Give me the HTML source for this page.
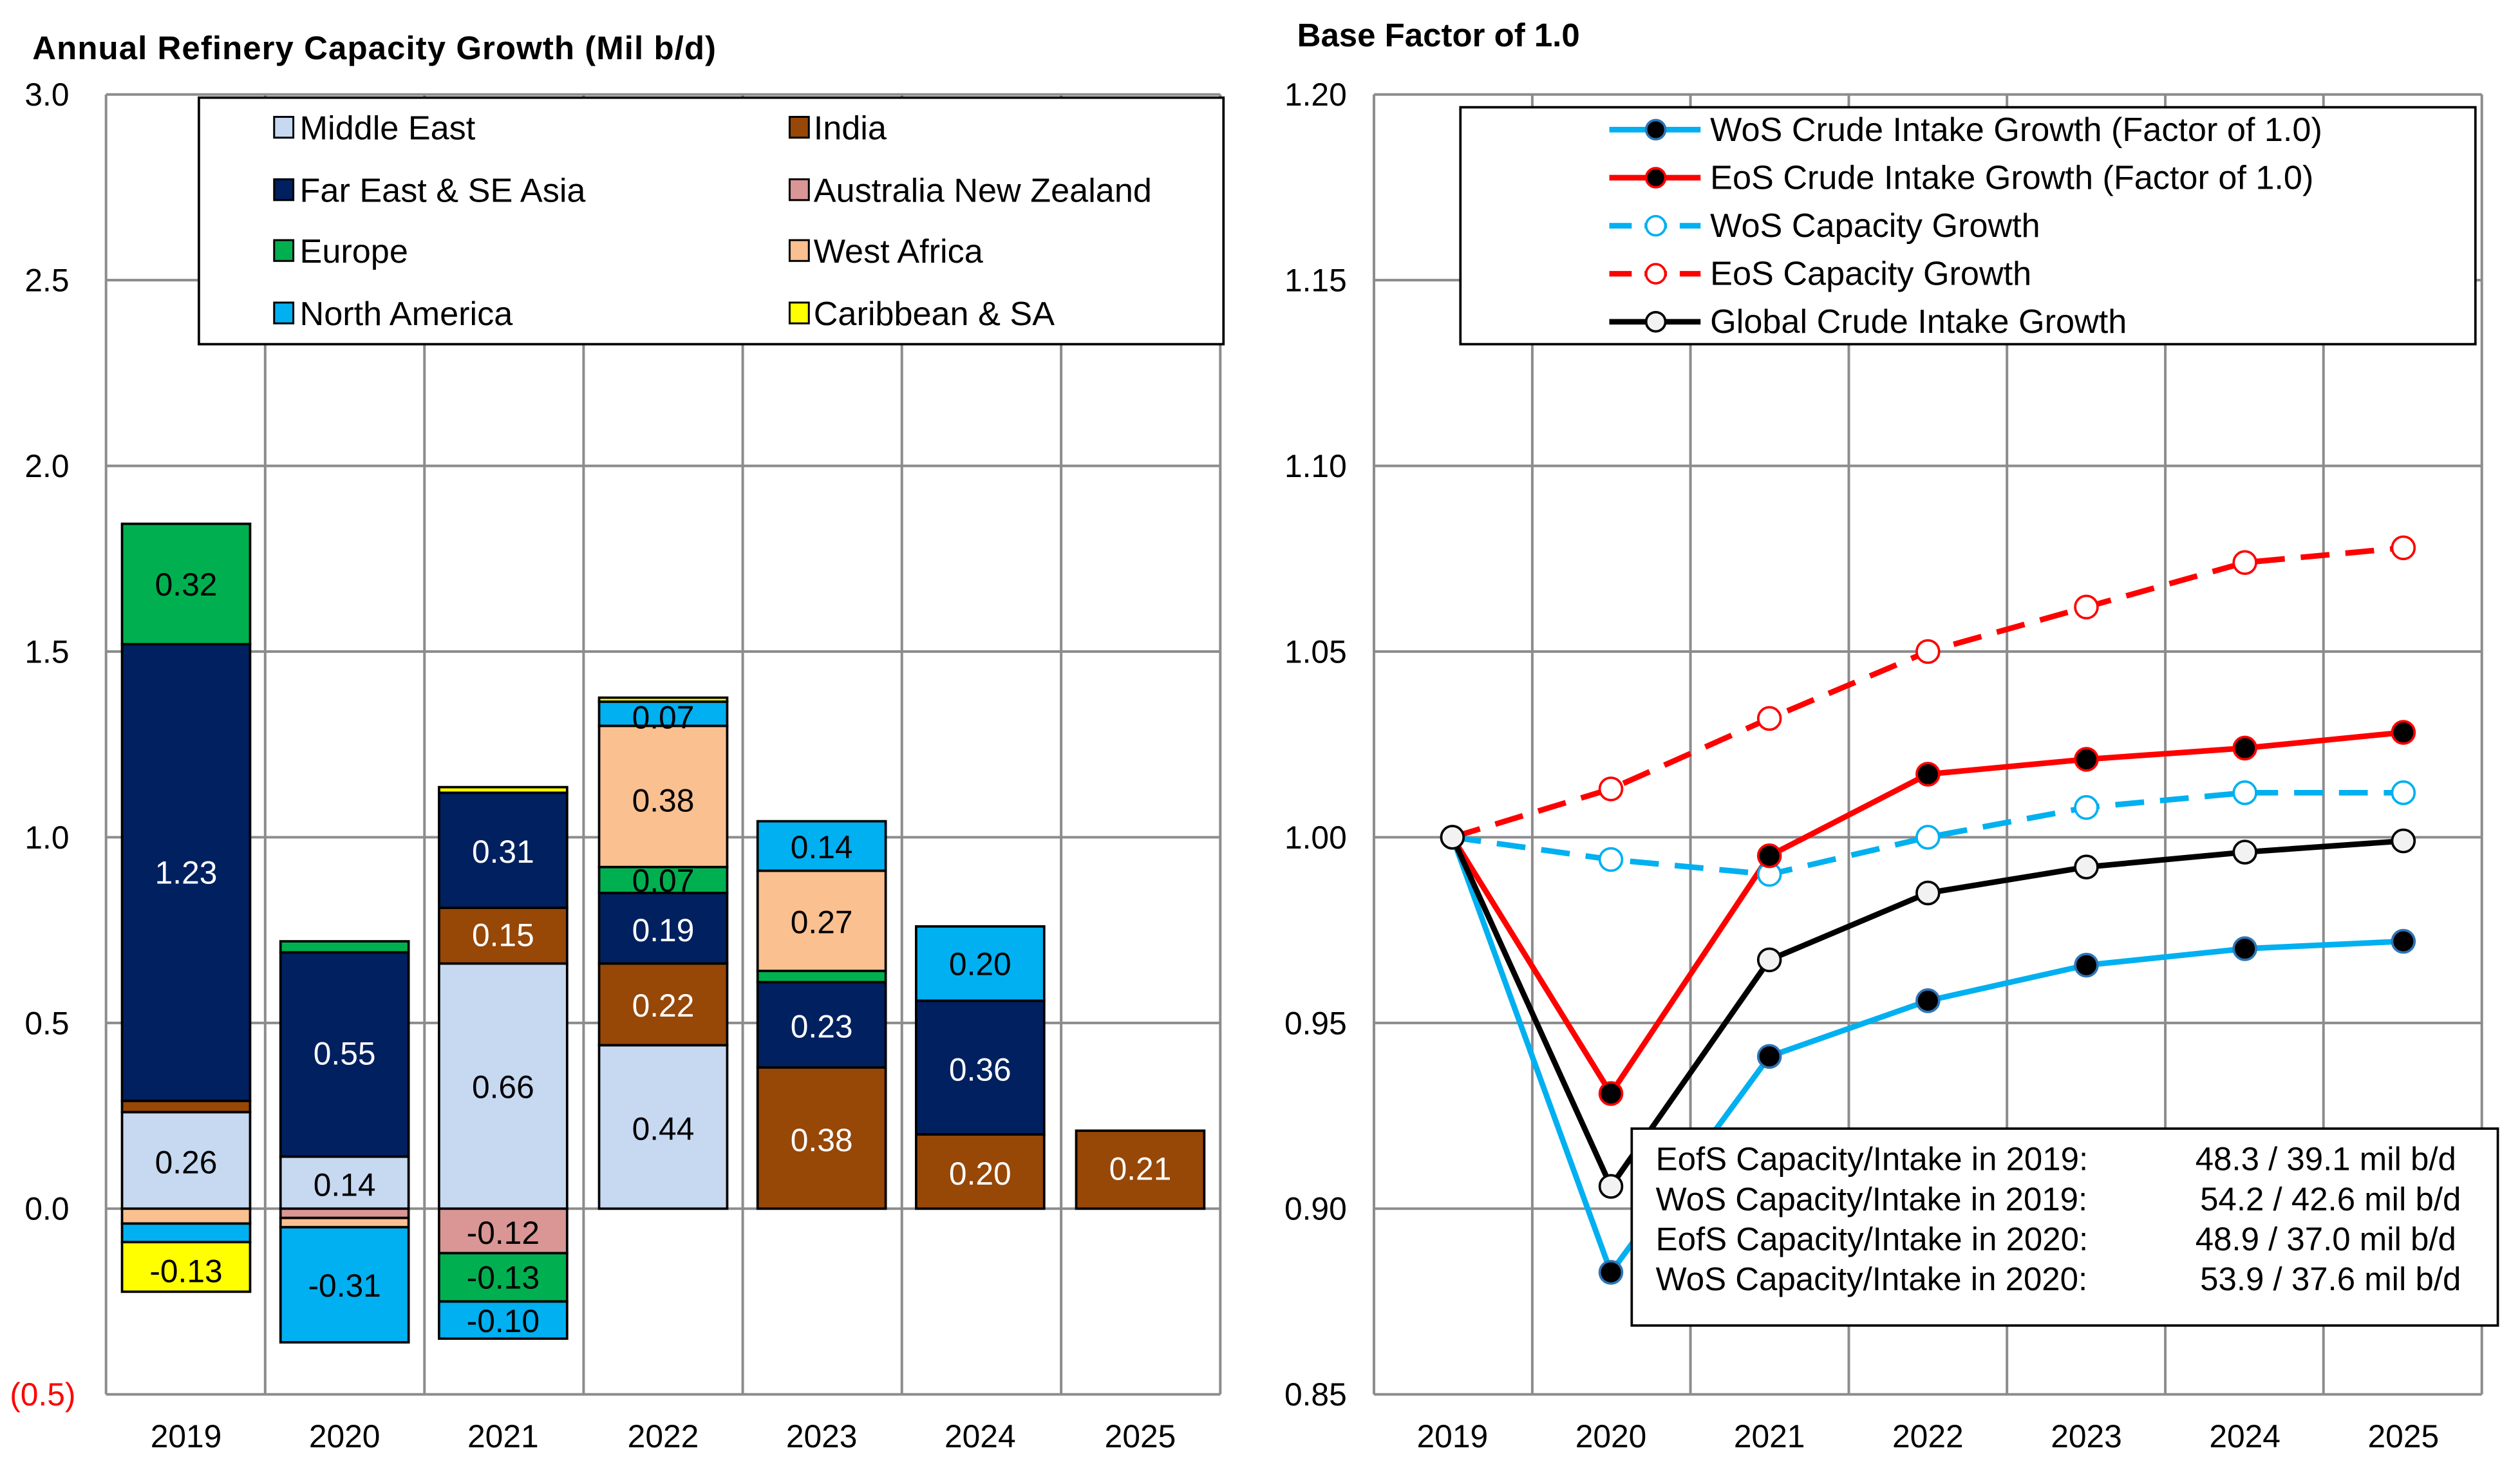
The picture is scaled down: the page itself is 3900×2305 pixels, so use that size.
<!DOCTYPE html>
<html><head><meta charset="utf-8"><style>html,body{margin:0;padding:0;background:#fff}svg{display:block}</style></head><body>
<svg xmlns="http://www.w3.org/2000/svg" width="3900" height="2305" viewBox="0 0 1568 927" font-family="Liberation Sans, Arial, sans-serif">
<rect width="1568" height="927" fill="#fff"/>
<!-- LEFT CHART -->
<text x="20" y="37" font-size="20.5" font-weight="bold" textLength="427">Annual Refinery Capacity Growth (Mil b/d)</text>
<g stroke="#8c8c8c" stroke-width="1.6">
<line x1="66" y1="59" x2="762" y2="59"/><line x1="66" y1="175" x2="762" y2="175"/><line x1="66" y1="291" x2="762" y2="291"/><line x1="66" y1="407" x2="762" y2="407"/><line x1="66" y1="523" x2="762" y2="523"/><line x1="66" y1="639" x2="762" y2="639"/><line x1="66" y1="755" x2="762" y2="755"/><line x1="66" y1="871" x2="762" y2="871"/>
<line x1="66" y1="59" x2="66" y2="871"/><line x1="165.4" y1="59" x2="165.4" y2="871"/><line x1="264.9" y1="59" x2="264.9" y2="871"/><line x1="364.3" y1="59" x2="364.3" y2="871"/><line x1="463.7" y1="59" x2="463.7" y2="871"/><line x1="563.1" y1="59" x2="563.1" y2="871"/><line x1="662.6" y1="59" x2="662.6" y2="871"/><line x1="762" y1="59" x2="762" y2="871"/>
</g>
<g font-size="20" text-anchor="end">
<text x="43" y="66">3.0</text><text x="43" y="182">2.5</text><text x="43" y="298">2.0</text><text x="43" y="414">1.5</text><text x="43" y="530">1.0</text><text x="43" y="646">0.5</text><text x="43" y="762">0.0</text><text x="47" y="878" fill="#ff0000">(0.5)</text>
</g>
<g font-size="20" text-anchor="middle">
<text x="116" y="904">2019</text><text x="215" y="904">2020</text><text x="314" y="904">2021</text><text x="414" y="904">2022</text><text x="513" y="904">2023</text><text x="612" y="904">2024</text><text x="712" y="904">2025</text>
</g>
<g stroke="#000" stroke-width="1.5">
<rect x="76" y="694.7" width="80" height="60.3" fill="#c6d9f1"/>
<rect x="76" y="687.7" width="80" height="7" fill="#974706"/>
<rect x="76" y="402.4" width="80" height="285.3" fill="#002060"/>
<rect x="76" y="327.2" width="80" height="75.2" fill="#00b050"/>
<rect x="76" y="755" width="80" height="9.3" fill="#fac090"/>
<rect x="76" y="764.3" width="80" height="11.6" fill="#00b0f0"/>
<rect x="76" y="775.9" width="80" height="31" fill="#ffff00"/>
<rect x="175" y="722.5" width="80" height="32.5" fill="#c6d9f1"/>
<rect x="175" y="594.9" width="80" height="127.6" fill="#002060"/>
<rect x="175" y="588" width="80" height="6.9" fill="#00b050"/>
<rect x="175" y="755" width="80" height="5.8" fill="#d99694"/>
<rect x="175" y="760.8" width="80" height="5.8" fill="#fac090"/>
<rect x="175" y="766.6" width="80" height="71.9" fill="#00b0f0"/>
<rect x="274" y="601.9" width="80" height="153.1" fill="#c6d9f1"/>
<rect x="274" y="567.1" width="80" height="34.8" fill="#974706"/>
<rect x="274" y="495.2" width="80" height="71.9" fill="#002060"/>
<rect x="274" y="491.7" width="80" height="3.5" fill="#ffff00"/>
<rect x="274" y="755" width="80" height="27.8" fill="#d99694"/>
<rect x="274" y="782.8" width="80" height="30.2" fill="#00b050"/>
<rect x="274" y="813" width="80" height="23.2" fill="#00b0f0"/>
<rect x="374" y="652.9" width="80" height="102.1" fill="#c6d9f1"/>
<rect x="374" y="601.9" width="80" height="51" fill="#974706"/>
<rect x="374" y="557.8" width="80" height="44.1" fill="#002060"/>
<rect x="374" y="541.6" width="80" height="16.2" fill="#00b050"/>
<rect x="374" y="453.4" width="80" height="88.2" fill="#fac090"/>
<rect x="374" y="438.3" width="80" height="15.1" fill="#00b0f0"/>
<rect x="374" y="435.8" width="80" height="2.5" fill="#ffff00"/>
<rect x="473" y="666.8" width="80" height="88.2" fill="#974706"/>
<rect x="473" y="613.5" width="80" height="53.3" fill="#002060"/>
<rect x="473" y="606.5" width="80" height="7" fill="#00b050"/>
<rect x="473" y="543.9" width="80" height="62.6" fill="#fac090"/>
<rect x="473" y="513" width="80" height="30.9" fill="#00b0f0"/>
<rect x="572" y="708.6" width="80" height="46.4" fill="#974706"/>
<rect x="572" y="625.1" width="80" height="83.5" fill="#002060"/>
<rect x="572" y="578.7" width="80" height="46.4" fill="#00b0f0"/>
<rect x="672" y="706.3" width="80" height="48.7" fill="#974706"/>
</g>
<g font-size="20" text-anchor="middle">
<text x="116" y="372">0.32</text>
<text x="116" y="552" fill="#fff">1.23</text>
<text x="116" y="733">0.26</text>
<text x="116" y="801">-0.13</text>
<text x="215" y="665" fill="#fff">0.55</text>
<text x="215" y="747">0.14</text>
<text x="215" y="810">-0.31</text>
<text x="314" y="686">0.66</text>
<text x="314" y="591" fill="#fff">0.15</text>
<text x="314" y="539" fill="#fff">0.31</text>
<text x="314" y="777">-0.12</text>
<text x="314" y="805">-0.13</text>
<text x="314" y="832">-0.10</text>
<text x="414" y="712">0.44</text>
<text x="414" y="635" fill="#fff">0.22</text>
<text x="414" y="588" fill="#fff">0.19</text>
<text x="414" y="557">0.07</text>
<text x="414" y="507">0.38</text>
<text x="414" y="455">0.07</text>
<text x="513" y="719" fill="#fff">0.38</text>
<text x="513" y="648" fill="#fff">0.23</text>
<text x="513" y="583">0.27</text>
<text x="513" y="536">0.14</text>
<text x="612" y="740" fill="#fff">0.20</text>
<text x="612" y="675" fill="#fff">0.36</text>
<text x="612" y="609">0.20</text>
<text x="712" y="737" fill="#fff">0.21</text>
</g>
<rect x="124" y="61" width="640" height="154" fill="#fff" stroke="#000" stroke-width="1.5"/>
<g stroke="#000" stroke-width="1.2">
<rect x="171" y="73" width="12" height="13" fill="#c6d9f1"/>
<rect x="171" y="112" width="12" height="13" fill="#002060"/>
<rect x="171" y="150" width="12" height="13" fill="#00b050"/>
<rect x="171" y="189" width="12" height="13" fill="#00b0f0"/>
<rect x="493" y="73" width="12" height="13" fill="#974706"/>
<rect x="493" y="112" width="12" height="13" fill="#d99694"/>
<rect x="493" y="150" width="12" height="13" fill="#fac090"/>
<rect x="493" y="189" width="12" height="13" fill="#ffff00"/>
</g>
<g font-size="21">
<text x="187" y="87">Middle East</text><text x="187" y="126">Far East &amp; SE Asia</text><text x="187" y="164">Europe</text><text x="187" y="203">North America</text>
<text x="508" y="87">India</text><text x="508" y="126">Australia New Zealand</text><text x="508" y="164">West Africa</text><text x="508" y="203">Caribbean &amp; SA</text>
</g>

<!-- RIGHT CHART -->
<text x="810" y="29" font-size="20.5" font-weight="bold">Base Factor of 1.0</text>
<g stroke="#8c8c8c" stroke-width="1.6">
<line x1="858" y1="59" x2="1550" y2="59"/><line x1="858" y1="175" x2="1550" y2="175"/><line x1="858" y1="291" x2="1550" y2="291"/><line x1="858" y1="407" x2="1550" y2="407"/><line x1="858" y1="523" x2="1550" y2="523"/><line x1="858" y1="639" x2="1550" y2="639"/><line x1="858" y1="755" x2="1550" y2="755"/><line x1="858" y1="871" x2="1550" y2="871"/>
<line x1="858" y1="59" x2="858" y2="871"/><line x1="956.9" y1="59" x2="956.9" y2="871"/><line x1="1055.7" y1="59" x2="1055.7" y2="871"/><line x1="1154.6" y1="59" x2="1154.6" y2="871"/><line x1="1253.4" y1="59" x2="1253.4" y2="871"/><line x1="1352.3" y1="59" x2="1352.3" y2="871"/><line x1="1451.1" y1="59" x2="1451.1" y2="871"/><line x1="1550" y1="59" x2="1550" y2="871"/>
</g>
<g font-size="20" text-anchor="end">
<text x="841" y="66">1.20</text><text x="841" y="182">1.15</text><text x="841" y="298">1.10</text><text x="841" y="414">1.05</text><text x="841" y="530">1.00</text><text x="841" y="646">0.95</text><text x="841" y="762">0.90</text><text x="841" y="878">0.85</text>
</g>
<g font-size="20" text-anchor="middle">
<text x="907" y="904">2019</text><text x="1006" y="904">2020</text><text x="1105" y="904">2021</text><text x="1204" y="904">2022</text><text x="1303" y="904">2023</text><text x="1402" y="904">2024</text><text x="1501" y="904">2025</text>
</g>
<g fill="none" stroke-width="3.5" stroke-linejoin="round">
<polyline stroke="#ff0000" stroke-dasharray="18,10" points="907,523 1006,492.8 1105,448.8 1204,407 1303,379.2 1402,351.4 1501,342.2"/>
<polyline stroke="#00b0f0" stroke-dasharray="18,10" points="907,523 1006,536.9 1105,546.2 1204,523 1303,504.4 1402,495.2 1501,495.2"/>
<polyline stroke="#00b0f0" points="907,523 1006,794.8 1105,659.9 1204,625.1 1303,602.9 1402,592.6 1501,588"/>
<polyline stroke="#ff0000" points="907,523 1006,683.1 1105,534.6 1204,483.6 1303,474.3 1402,467.3 1501,457.5"/>
<polyline stroke="#000" points="907,523 1006,741.1 1105,599.6 1204,557.8 1303,541.6 1402,532.3 1501,525.3"/>
</g>
<g stroke-width="1.5">
<g fill="#fff" stroke="#ff0000"><circle cx="1006" cy="492.8" r="7"/><circle cx="1105" cy="448.8" r="7"/><circle cx="1204" cy="407" r="7"/><circle cx="1303" cy="379.2" r="7"/><circle cx="1402" cy="351.4" r="7"/><circle cx="1501" cy="342.2" r="7"/></g>
<g fill="#fff" stroke="#00b0f0"><circle cx="1006" cy="536.9" r="7"/><circle cx="1105" cy="546.2" r="7"/><circle cx="1204" cy="523" r="7"/><circle cx="1303" cy="504.4" r="7"/><circle cx="1402" cy="495.2" r="7"/><circle cx="1501" cy="495.2" r="7"/></g>
<g fill="#000" stroke="#2e75b6"><circle cx="1006" cy="794.8" r="7"/><circle cx="1105" cy="659.9" r="7"/><circle cx="1204" cy="625.1" r="7"/><circle cx="1303" cy="602.9" r="7"/><circle cx="1402" cy="592.6" r="7"/><circle cx="1501" cy="588" r="7"/></g>
<g fill="#000" stroke="#ff0000"><circle cx="1006" cy="683.1" r="7"/><circle cx="1105" cy="534.6" r="7"/><circle cx="1204" cy="483.6" r="7"/><circle cx="1303" cy="474.3" r="7"/><circle cx="1402" cy="467.3" r="7"/><circle cx="1501" cy="457.5" r="7"/></g>
<g fill="#f2f2f2" stroke="#000"><circle cx="1006" cy="741.1" r="7"/><circle cx="1105" cy="599.6" r="7"/><circle cx="1204" cy="557.8" r="7"/><circle cx="1303" cy="541.6" r="7"/><circle cx="1402" cy="532.3" r="7"/><circle cx="1501" cy="525.3" r="7"/><circle cx="907" cy="523" r="7"/></g>
</g>
<rect x="1019" y="705" width="541" height="123" fill="#fff" stroke="#000" stroke-width="1.5"/>
<g font-size="20.5">
<text x="1034" y="731">EofS Capacity/Intake in 2019:</text>
<text x="1034" y="756">WoS Capacity/Intake in 2019:</text>
<text x="1034" y="781">EofS Capacity/Intake in 2020:</text>
<text x="1034" y="806">WoS Capacity/Intake in 2020:</text>
</g>
<g font-size="20.5" text-anchor="end">
<text x="1534" y="731">48.3 / 39.1 mil b/d</text>
<text x="1537" y="756">54.2 / 42.6 mil b/d</text>
<text x="1534" y="781">48.9 / 37.0 mil b/d</text>
<text x="1537" y="806">53.9 / 37.6 mil b/d</text>
</g>
<rect x="912" y="67" width="634" height="148" fill="#fff" stroke="#000" stroke-width="1.5"/>
<g stroke-width="3.5">
<line x1="1005" y1="81" x2="1062" y2="81" stroke="#00b0f0"/>
<line x1="1005" y1="111" x2="1062" y2="111" stroke="#ff0000"/>
<line x1="1005" y1="141" x2="1062" y2="141" stroke="#00b0f0" stroke-dasharray="14,8"/>
<line x1="1005" y1="171" x2="1062" y2="171" stroke="#ff0000" stroke-dasharray="14,8"/>
<line x1="1005" y1="201" x2="1062" y2="201" stroke="#000"/>
</g>
<g stroke-width="1.5">
<circle cx="1034" cy="81" r="6" fill="#000" stroke="#2e75b6"/>
<circle cx="1034" cy="111" r="6" fill="#000" stroke="#ff0000"/>
<circle cx="1034" cy="141" r="6" fill="#fff" stroke="#00b0f0"/>
<circle cx="1034" cy="171" r="6" fill="#fff" stroke="#ff0000"/>
<circle cx="1034" cy="201" r="6" fill="#f2f2f2" stroke="#000"/>
</g>
<g font-size="21">
<text x="1068" y="88">WoS Crude Intake Growth (Factor of 1.0)</text>
<text x="1068" y="118">EoS Crude Intake Growth (Factor of 1.0)</text>
<text x="1068" y="148">WoS Capacity Growth</text>
<text x="1068" y="178">EoS Capacity Growth</text>
<text x="1068" y="208">Global Crude Intake Growth</text>
</g>
</svg>
</body></html>
